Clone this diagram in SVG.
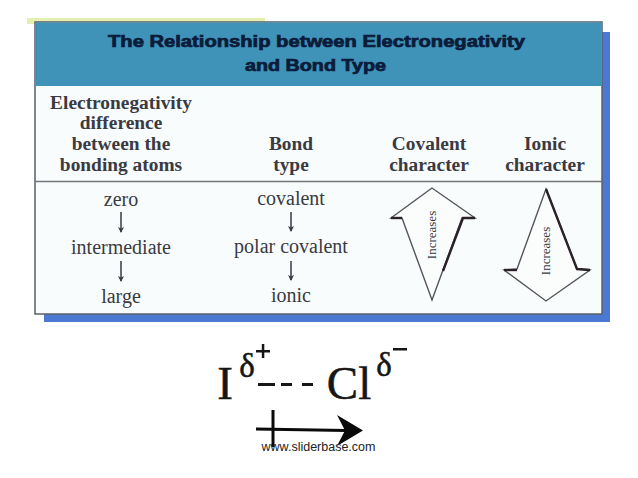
<svg xmlns="http://www.w3.org/2000/svg" width="638" height="478" viewBox="0 0 638 478">
<style>
.h{font-family:"Liberation Sans",Arial,sans-serif;font-weight:bold;font-size:16px;fill:#0b1c3a;stroke:#0b1c3a;stroke-width:.7px;text-anchor:middle}
.t{font-family:"Liberation Serif","Times New Roman",serif;fill:#3a3a42;text-anchor:middle}
.b{font-size:19.400px;font-weight:bold}
.r{font-size:20px}
.s{font-size:13px}
.c{font-family:"Liberation Serif","Times New Roman",serif;fill:#161616;stroke:#161616;stroke-width:.5px;text-anchor:middle}
.ar{fill:none;stroke:#3a3a42;stroke-width:1.5px;marker-end:url(#tip)}
.big{fill:#fbfdfd;stroke:#55555a;stroke-width:1.4px;stroke-linejoin:miter}
.ed{fill:none;stroke:#2a2228;stroke-width:2.4px}
</style>
<defs>
<marker id="tip" markerWidth="7" markerHeight="7" refX="5" refY="3" orient="auto" markerUnits="userSpaceOnUse"><path d="M0,0 L6,3 L0,6 L1.5,3 Z" fill="#3a3a42"/></marker>
</defs>
<rect width="638" height="478" fill="#ffffff"/>
<rect x="27" y="18" width="238" height="6" fill="#e4efb0"/>
<g id="table">
<rect x="44" y="32" width="566" height="290" fill="#4a78d2"/>
<rect x="35" y="22" width="567" height="292" fill="#f8fcfd" stroke="#5a6068" stroke-width="1.5"/>
<rect x="35.500" y="22.500" width="566" height="63.500" fill="#3f92b8"/>
<line x1="35" y1="181.500" x2="602" y2="181.500" stroke="#75757a" stroke-width="1.5"/>
</g>
<g id="title">
<text class="h" x="316.500" y="47" textLength="417" lengthAdjust="spacingAndGlyphs">The Relationship between Electronegativity</text>
<text class="h" x="315.500" y="71" textLength="141" lengthAdjust="spacingAndGlyphs">and Bond Type</text>
</g>
<g id="headers">
<text class="t b" x="121" y="109">Electronegativity</text>
<text class="t b" x="121" y="129">difference</text>
<text class="t b" x="121" y="150">between the</text>
<text class="t b" x="121" y="171">bonding atoms</text>
<text class="t b" x="291" y="150">Bond</text>
<text class="t b" x="291" y="171">type</text>
<text class="t b" x="429" y="150">Covalent</text>
<text class="t b" x="429" y="171">character</text>
<text class="t b" x="545" y="150">Ionic</text>
<text class="t b" x="545" y="171">character</text>
</g>
<g id="col-difference">
<text class="t r" x="121" y="206">zero</text>
<text class="t r" x="121" y="254">intermediate</text>
<text class="t r" x="121" y="303">large</text>
</g>
<g id="col-bond">
<text class="t r" x="291" y="205">covalent</text>
<text class="t r" x="291" y="253">polar covalent</text>
<text class="t r" x="291" y="302">ionic</text>
</g>
<g id="connectors">
<line class="ar" x1="121" y1="212" x2="121" y2="232"/>
<line class="ar" x1="121" y1="261" x2="121" y2="281"/>
<line class="ar" x1="291" y1="212" x2="291" y2="231"/>
<line class="ar" x1="291" y1="261" x2="291" y2="280"/>
</g>
<g id="covalent-arrow">
<polygon class="big" points="432,188 391,218 402,218 432,300 462,218 475,218"/>
<polyline class="ed" points="391,218 402,218"/>
<polyline class="ed" points="475,218 463,218 443,271"/>
<text class="t s" transform="translate(436,235) rotate(-90)">Increases</text>
</g>
<g id="ionic-arrow">
<polygon class="big" points="546,189 517,269 504,270 546,301 590,270 577,269"/>
<polyline class="ed" points="504,270 517,270"/>
<polyline class="ed" points="546,189 577,269 590,270"/>
<text class="t s" transform="translate(550,251) rotate(-90)">Increases</text>
</g>
<g id="formula">
<text class="c" x="225" y="399" font-size="47">I</text>
<text class="c" x="247" y="377" font-size="33">δ</text>
<rect x="256" y="350" width="14" height="2.500" fill="#161616"/>
<rect x="261.800" y="344" width="2.500" height="14" fill="#161616"/>
<rect x="258" y="383" width="17" height="3" fill="#161616"/>
<rect x="281" y="383" width="11" height="3" fill="#161616"/>
<rect x="302" y="383" width="11" height="3" fill="#161616"/>
<text class="c" x="349" y="399" font-size="47">Cl</text>
<text class="c" x="384" y="376" font-size="33">δ</text>
<rect x="393" y="348" width="14" height="2.500" fill="#161616"/>
</g>
<g id="dipole-arrow">
<line x1="256" y1="429" x2="346" y2="430.500" stroke="#0a0a0a" stroke-width="3"/>
<line x1="273" y1="410" x2="273" y2="447" stroke="#0a0a0a" stroke-width="3"/>
<polygon points="363,430.500 337,415 345,430.500 337,446" fill="#0a0a0a"/>
</g>
<text id="watermark" x="318.500" y="451" font-family="Liberation Sans,Arial,sans-serif" font-size="12.500" fill="#222222" text-anchor="middle">www.sliderbase.com</text>
</svg>
